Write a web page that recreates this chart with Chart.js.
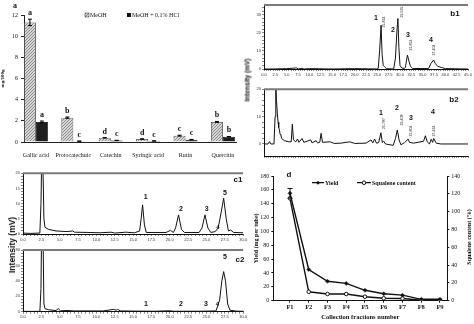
<!DOCTYPE html>
<html>
<head>
<meta charset="utf-8">
<script src="https://cdn.jsdelivr.net/npm/chart.js@4.4.1/dist/chart.umd.min.js"></script>
<style>
  body { margin: 0; background: #fff; }
  #wrap { position: relative; width: 474px; height: 324px; overflow: hidden; background: #fff; }
  #wrap canvas { position: absolute; }
  .vlab { position: absolute; font-family: "Liberation Sans", Arial, sans-serif; font-weight: bold;
          white-space: nowrap; transform: translate(-50%, -50%) rotate(-90deg); color: #111; }
</style>
</head>
<body>
<div id="wrap">
  <canvas id="pa" width="245" height="160" style="left:0;top:0"></canvas>
  <canvas id="pb1" width="234" height="82" style="left:240px;top:0"></canvas>
  <canvas id="pb2" width="234" height="78" style="left:240px;top:82px"></canvas>
  <canvas id="pc1" width="248" height="82" style="left:0;top:160px"></canvas>
  <canvas id="pc2" width="248" height="82" style="left:0;top:242px"></canvas>
  <canvas id="pd" width="234" height="164" style="left:240px;top:160px"></canvas>
  <div class="vlab" style="left:247px;top:80px;font-size:6.5px">Intensity (mV)</div>
  <div class="vlab" style="left:12px;top:245px;font-size:8.5px">Intensity (mV)</div>
</div>
<script>
// --- panel a: phenolic compounds (mg/100g)
const COMPOUNDS = ['Gallic acid', ['Protocatechuic', 'acid'], 'Catechin', 'Syringic acid', 'Rutin', 'Quercitin'];
const MEOH = [11.3, 2.3, 0.4, 0.28, 0.6, 1.9];
const MEOH_ERR = [0.3, 0.06, 0.02, 0.02, 0.04, 0.04];
const MEOH_HCL = [1.9, 0.08, 0.15, 0.1, 0.22, 0.5];
const MEOH_HCL_ERR = [0.08, 0.01, 0.01, 0.01, 0.02, 0.02];
const MEOH_LETTERS = ['a', 'b', 'd', 'd', 'c', 'b'];
const HCL_LETTERS = ['a', 'c', 'c', 'c', 'c', 'b'];

// --- panels b1/b2: chromatograms, [time (min), mV]
const B1_TRACE = [[0,0],[2,0],[5,0.2],[7.2,0.6],[7.6,0],[8.4,0.4],[8.8,0],[10,0.2],[15,0],[20,0.2],[24.8,0],
  [25.2,0.3],[25.5,10],[25.824,24.3],[26.05,8],[26.3,2],[26.6,1.2],[27,0.2],
  [28.6,0],[29.0,6],[29.3,20],[29.535,28],[29.75,12],[30.0,2],[30.4,0.5],[31,0.3],
  [31.2,1],[31.45,5],[31.654,7.7],[31.9,5],[32.3,1.5],[32.8,0.3],
  [36.3,0.2],[36.8,3],[37.404,5],[37.8,3],[38.3,1.5],[39.2,0.8],[40,0.2],[45,0]];
const B1_PEAKS = ['25.824', '29.535', '31.654', '37.404'];

const B2_TRACE = [[0,0],[0.9,0],[1.2,0.9],[1.5,0],[2.2,0],[2.45,10],[2.6,22],[2.75,16],[2.95,11],[3.1,8],[3.25,6],
  [3.4,5.2],[3.55,3.5],[3.7,3.4],[3.9,2],[4.5,1.2],[5.5,0.8],[6.0,0.8],[6.25,7.2],[6.5,1.5],[7,0.8],[7.4,1.8],
  [7.7,0.6],[8.4,2],[8.8,0.6],[10.3,1.5],[10.6,0.4],[11.5,1.2],[11.8,0.4],[12.3,0.6],[12.6,3.9],[12.9,0.6],
  [14.6,0.8],[15.5,0.2],[17,0.3],[18.9,0.8],[20,0.2],[22.5,0.3],[23.6,1.5],[24,0.4],[24.4,1.8],[24.8,0.3],
  [25.3,0.5],[25.787,4.1],[26.1,0.5],[26.4,1],[26.8,0],[28.5,-0.5],[29.0,2],[29.408,5.1],[29.8,1.5],[30.2,-0.3],
  [31.0,0.5],[31.804,1.8],[32.1,0.6],[33,0.3],[35.2,1],[35.6,3],[36.0,0.8],[36.5,0],[36.9,1.7],[37.2,0.6],
  [37.434,2],[38,0.3],[39,0],[45,0]];
const B2_PEAKS = ['25.787', '29.408', '31.804', '37.434'];

// --- panels c1/c2
const C1_TRACE = [[0,0.3],[1,0.2],[2.3,0.3],[2.45,10],[2.55,25],[2.7,25],[2.85,5],[3.0,2.2],[3.5,1.5],[4.5,1.0],
  [6,0.8],[6.8,1.0],[7,0.6],[9,0.5],[10.5,0.4],[12,0.6],[12.5,0.3],[14,0.6],[15.2,0.4],[15.9,1],[16.1,5],
  [16.3,9.6],[16.55,3],[16.8,0.5],[19.5,0.5],[20.1,1.2],[20.5,0.5],[20.8,2],[21.2,6.3],[21.6,1.5],[22,0.5],
  [24,0.5],[24.4,2],[24.8,6.3],[25.2,2],[25.6,0.5],[26.2,0.8],[26.6,2],[27.0,7],[27.35,11.8],[27.7,5],[28,1],
  [28.3,1.3],[28.7,0.5],[30,0.4]];
const C2_TRACE = [[0,0.5],[1,0.4],[2.3,0.5],[2.45,30],[2.55,120],[2.7,120],[2.85,10],[3.0,4],[3.5,2.5],[4.5,1.5],
  [4.8,4],[5.1,1.2],[6,1.5],[7,1],[9,1],[11,1],[12.3,3],[12.7,2],[12.9,3],[13.3,1],[15,0.8],[18,0.6],
  [20,1.2],[20.5,0.6],[24,0.6],[26.3,1],[26.8,15],[27.1,40],[27.35,52],[27.6,40],[27.9,10],[28.2,2],[29,0.8],[30,0.5]];

// --- panel d: fractions
const FRACTIONS = ['F1', 'F2', 'F3', 'F4', 'F5', 'F6', 'F7', 'F8', 'F9'];
const YIELD = [155, 45, 28, 25, 15, 10, 8, 2, 2];
const YIELD_ERR = [7, 1, 1, 1, 0.5, 0.5, 0.5, 0.2, 0.2];
const SQUALENE = [115, 10, 7.5, 7.5, 4.5, 2.7, 2.5, 0.5, 0.5];

Chart.defaults.devicePixelRatio = 1;
Chart.defaults.animation = false;
Chart.defaults.responsive = false;
Chart.defaults.plugins.legend.display = false;
Chart.defaults.plugins.tooltip.enabled = false;
Chart.defaults.color = '#111';

const SERIF = '"Liberation Serif", "Times New Roman", serif';
const SANS = '"Liberation Sans", Arial, sans-serif';

function hatchPattern() {
  const c = document.createElement('canvas');
  c.width = c.height = 3;
  const g = c.getContext('2d');
  g.fillStyle = '#d6d6d6';
  g.fillRect(0, 0, 3, 3);
  g.fillStyle = '#8c8c8c';
  g.fillRect(2, 0, 1, 1);
  g.fillRect(1, 1, 1, 1);
  g.fillRect(0, 2, 1, 1);
  return g.createPattern(c, 'repeat');
}
const HATCH = hatchPattern();

// free text drawn on top of a chart, positions in canvas pixels
const notes = {
  id: 'notes',
  afterDraw(chart, args, opts) {
    const ctx = chart.ctx;
    (opts.items || []).forEach(n => {
      ctx.save();
      ctx.font = n.font;
      ctx.fillStyle = '#111';
      ctx.textAlign = 'center';
      ctx.textBaseline = 'middle';
      ctx.translate(n.x, n.y);
      if (n.rot) ctx.rotate(n.rot);
      ctx.fillText(n.text, 0, 0);
      ctx.restore();
    });
  }
};

// thick grey line across the top of a chromatogram
const topRule = {
  id: 'topRule',
  afterDraw(chart) {
    const a = chart.chartArea, ctx = chart.ctx;
    ctx.save();
    ctx.strokeStyle = '#7a7a7a';
    ctx.lineWidth = 2;
    ctx.beginPath();
    ctx.moveTo(a.left, a.top);
    ctx.lineTo(a.right, a.top);
    ctx.stroke();
    ctx.restore();
  }
};

// ---------- panel a ----------
const barMarks = {
  id: 'barMarks',
  afterDatasetsDraw(chart) {
    const ctx = chart.ctx, y = chart.scales.y;
    const errs = [MEOH_ERR, MEOH_HCL_ERR], letters = [MEOH_LETTERS, HCL_LETTERS];
    ctx.save();
    chart.data.datasets.forEach((ds, di) => {
      chart.getDatasetMeta(di).data.forEach((bar, i) => {
        const v = ds.data[i].y, e = errs[di][i];
        const top = y.getPixelForValue(v + e), bot = y.getPixelForValue(v - e);
        ctx.strokeStyle = '#000';
        ctx.lineWidth = 1;
        ctx.beginPath();
        ctx.moveTo(bar.x, top); ctx.lineTo(bar.x, bot);
        ctx.moveTo(bar.x - 2, top); ctx.lineTo(bar.x + 2, top);
        ctx.moveTo(bar.x - 2, bot); ctx.lineTo(bar.x + 2, bot);
        ctx.stroke();
        ctx.font = 'bold 8px ' + SERIF;
        ctx.fillStyle = '#111';
        ctx.textAlign = 'center';
        ctx.textBaseline = 'alphabetic';
        ctx.fillText(letters[di][i], bar.x, top - 4);
      });
    });
    // legend
    ctx.font = '6px ' + SERIF;
    ctx.textBaseline = 'middle';
    ctx.textAlign = 'left';
    ctx.fillStyle = HATCH;
    ctx.fillRect(85, 13, 4, 4);
    ctx.strokeStyle = '#333';
    ctx.lineWidth = 0.5;
    ctx.strokeRect(85, 13, 4, 4);
    ctx.fillStyle = '#111';
    ctx.fillText(chart.data.datasets[0].label, 90, 15.5);
    ctx.fillRect(127, 13, 4, 4);
    ctx.fillText(chart.data.datasets[1].label, 132, 15.5);
    ctx.restore();
  }
};

new Chart(document.getElementById('pa'), {
  type: 'bar',
  data: {
    datasets: [
      { label: 'MeOH', data: MEOH.map((v, i) => ({ x: i + 1, y: v })),
        backgroundColor: HATCH, borderColor: '#333', borderWidth: 0.8 },
      { label: 'MeOH + 0.1% HCl', data: MEOH_HCL.map((v, i) => ({ x: i + 1, y: v })),
        backgroundColor: '#1e1e1e', borderColor: '#000', borderWidth: 0.8 }
    ]
  },
  options: {
    layout: { padding: { left: 0, top: 15, right: 9, bottom: 0 } },
    datasets: { bar: { categoryPercentage: 0.64, barPercentage: 1 } },
    plugins: {
      notes: { items: [{ text: 'a', x: 15, y: 6, font: 'bold 8px ' + SERIF }] }
    },
    scales: {
      x: {
        type: 'linear', min: 0.681, max: 6.35, offset: false,
        afterBuildTicks: s => { s.ticks = COMPOUNDS.map((c, i) => ({ value: i + 1 })); },
        afterFit: s => { s.height = 18; },
        ticks: { callback: v => COMPOUNDS[v - 1], font: { family: SERIF, size: 6 }, padding: 2, maxRotation: 0, autoSkip: false },
        grid: { display: false },
        border: { color: '#222', width: 1 }
      },
      y: {
        min: 0, max: 12,
        afterFit: s => { s.width = 24; },
        ticks: { stepSize: 2, font: { family: SERIF, size: 6 }, padding: 3 },
        grid: { display: true, drawOnChartArea: false, tickLength: 3, color: '#222' },
        border: { color: '#222', width: 1 },
        title: { display: true, text: 'mg/100g', font: { family: SERIF, size: 5, weight: 'bold' }, padding: 0 }
      }
    }
  },
  plugins: [barMarks, notes]
});

// ---------- chromatograms ----------
function chromatogram(id, trace, o) {
  const xTicks = [];
  for (let t = 0; t <= o.xMax + 1e-9; t += 0.5) xTicks.push({ value: t });
  const yTicks = [];
  for (let v = 0; v <= o.yMax + 1e-9; v += o.yMinor) yTicks.push({ value: v });
  return new Chart(document.getElementById(id), {
    type: 'line',
    data: {
      datasets: [{ data: trace.map(p => ({ x: p[0], y: p[1] })), borderColor: '#111',
                   borderWidth: 1, pointRadius: 0, tension: 0 }]
    },
    options: {
      layout: { padding: o.pad },
      plugins: { notes: { items: o.notes } },
      scales: {
        x: {
          type: 'linear', min: 0, max: o.xMax,
          afterBuildTicks: s => { s.ticks = xTicks.slice(); },
          afterFit: s => { s.height = o.xH; },
          ticks: { callback: v => (Math.abs(v / 2.5 - Math.round(v / 2.5)) < 1e-6 ? v.toFixed(1) : ''),
                   font: { family: SANS, size: 4 }, color: '#333', padding: 1, maxRotation: 0, autoSkip: false },
          grid: { display: true, drawOnChartArea: false, tickLength: 2, color: '#333', lineWidth: 0.6 },
          border: { color: '#111', width: 1 }
        },
        y: {
          min: o.yMin || 0, max: o.yMax,
          afterBuildTicks: s => { s.ticks = yTicks.slice(); },
          afterFit: s => { s.width = o.yW; },
          ticks: { callback: v => (Math.abs(v / o.yMajor - Math.round(v / o.yMajor)) < 1e-6 ? String(v) : ''),
                   font: { family: SANS, size: 4 }, color: '#333', padding: 1, autoSkip: false },
          grid: { display: true, drawOnChartArea: false, tickLength: 2, color: '#333', lineWidth: 0.6 },
          border: { color: '#111', width: 1 }
        }
      }
    },
    plugins: [topRule, notes]
  });
}

const NUM = 'bold 7px ' + SANS;
const TAG = 'bold 8px ' + SANS;
const RT = '3.6px ' + SANS;
const UP = -Math.PI / 2;

chromatogram('pb1', B1_TRACE, {
  xMax: 45, yMax: 35.5, yMinor: 2, yMajor: 10, xH: 13, yW: 24,
  pad: { left: 0, right: 6, top: 5, bottom: 0 },
  notes: [
    { text: '1', x: 136, y: 18, font: NUM }, { text: '2', x: 153, y: 30, font: NUM },
    { text: '3', x: 168, y: 35, font: NUM }, { text: '4', x: 191, y: 40, font: NUM },
    { text: 'b1', x: 215, y: 14, font: TAG },
    { text: B1_PEAKS[0], x: 144, y: 22, font: RT, rot: UP }, { text: B1_PEAKS[1], x: 161.7, y: 12, font: RT, rot: UP },
    { text: B1_PEAKS[2], x: 171, y: 45, font: RT, rot: UP }, { text: B1_PEAKS[3], x: 194, y: 50, font: RT, rot: UP }
  ]
});

chromatogram('pb2', B2_TRACE, {
  xMax: 45, yMin: -4.4, yMax: 20, yMinor: 2, yMajor: 10, xH: 4, yW: 24,
  pad: { left: 0, right: 6, top: 7.3, bottom: 0 },
  notes: [
    { text: '1', x: 141, y: 31, font: NUM }, { text: '2', x: 157, y: 26, font: NUM },
    { text: '3', x: 171, y: 36, font: NUM }, { text: '4', x: 193, y: 30, font: NUM },
    { text: 'b2', x: 214, y: 18, font: TAG },
    { text: B2_PEAKS[0], x: 144, y: 41.5, font: RT, rot: UP }, { text: B2_PEAKS[1], x: 161.7, y: 38, font: RT, rot: UP },
    { text: B2_PEAKS[2], x: 171, y: 49, font: RT, rot: UP }, { text: B2_PEAKS[3], x: 194, y: 49, font: RT, rot: UP }
  ]
});

chromatogram('pc1', C1_TRACE, {
  xMax: 30, yMax: 20, yMinor: 1, yMajor: 5, xH: 8, yW: 23,
  pad: { left: 0, right: 0, top: 13.3, bottom: 0 },
  notes: [
    { text: '1', x: 145.7, y: 37.3, font: NUM }, { text: '2', x: 181, y: 49, font: NUM },
    { text: '3', x: 206.7, y: 48.7, font: NUM }, { text: '4', x: 218, y: 67.5, font: 'bold 6px ' + SANS },
    { text: '5', x: 225, y: 33, font: NUM }, { text: 'c1', x: 238, y: 20, font: TAG }
  ]
});

chromatogram('pc2', C2_TRACE, {
  xMax: 30, yMax: 80, yMinor: 4, yMajor: 20, xH: 12.3, yW: 23,
  pad: { left: 0, right: 0, top: 8, bottom: 0 },
  notes: [
    { text: '1', x: 146, y: 62, font: NUM }, { text: '2', x: 181, y: 62, font: NUM },
    { text: '3', x: 206, y: 62, font: NUM }, { text: '4', x: 217.5, y: 62, font: 'bold 6px ' + SANS },
    { text: '5', x: 225, y: 14.7, font: NUM }, { text: 'c2', x: 240, y: 18, font: TAG }
  ]
});

// ---------- panel d ----------
const dMarks = {
  id: 'dMarks',
  afterDatasetsDraw(chart) {
    const ctx = chart.ctx, y = chart.scales.y;
    const pts = chart.getDatasetMeta(0).data;
    ctx.save();
    ctx.strokeStyle = '#111';
    ctx.lineWidth = 1;
    pts.forEach((p, i) => {
      if (YIELD_ERR[i] < 2) return;
      const t = y.getPixelForValue(YIELD[i] + YIELD_ERR[i]), b = y.getPixelForValue(YIELD[i] - YIELD_ERR[i]);
      ctx.beginPath();
      ctx.moveTo(p.x, t); ctx.lineTo(p.x, b);
      ctx.moveTo(p.x - 2.5, t); ctx.lineTo(p.x + 2.5, t);
      ctx.moveTo(p.x - 2.5, b); ctx.lineTo(p.x + 2.5, b);
      ctx.stroke();
    });
    // legend
    ctx.lineWidth = 1.3;
    ctx.beginPath();
    ctx.moveTo(72, 22.7); ctx.lineTo(84, 22.7);
    ctx.moveTo(117, 22.7); ctx.lineTo(131, 22.7);
    ctx.stroke();
    ctx.fillStyle = '#111';
    ctx.beginPath();
    ctx.moveTo(78, 20.7); ctx.lineTo(80, 22.7); ctx.lineTo(78, 24.7); ctx.lineTo(76, 22.7);
    ctx.closePath(); ctx.fill();
    ctx.fillStyle = '#fff';
    ctx.lineWidth = 1;
    ctx.beginPath(); ctx.arc(124, 22.7, 1.8, 0, Math.PI * 2); ctx.fill(); ctx.stroke();
    ctx.fillStyle = '#111';
    ctx.font = 'bold 6px ' + SERIF;
    ctx.textAlign = 'left';
    ctx.textBaseline = 'middle';
    ctx.fillText(chart.data.datasets[0].label, 85, 23);
    ctx.fillText(chart.data.datasets[1].label, 132, 23);
    ctx.restore();
  }
};

new Chart(document.getElementById('pd'), {
  type: 'line',
  data: {
    datasets: [
      { label: 'Yield', data: YIELD.map((v, i) => ({ x: i + 1, y: v })), yAxisID: 'y',
        borderColor: '#111', borderWidth: 1.4, tension: 0, pointStyle: 'rectRot', pointRadius: 2,
        pointBackgroundColor: '#111', pointBorderColor: '#111', pointBorderWidth: 0.5 },
      { label: 'Squalene content', data: SQUALENE.map((v, i) => ({ x: i + 1, y: v })), yAxisID: 'y2',
        borderColor: '#111', borderWidth: 1.4, tension: 0, pointStyle: 'circle', pointRadius: 1.8,
        pointBackgroundColor: '#fff', pointBorderColor: '#111', pointBorderWidth: 1 }
    ]
  },
  options: {
    layout: { padding: { left: 13, right: 0, top: 16, bottom: 3 } },
    plugins: {
      notes: { items: [
        { text: 'd', x: 49, y: 15, font: 'bold 8px ' + SANS },
        { text: 'Squalene content (%)', x: 229, y: 77, font: 'bold 6px ' + SERIF, rot: UP }
      ] }
    },
    scales: {
      x: {
        type: 'linear', min: 0.11, max: 9.39,
        afterBuildTicks: s => { s.ticks = FRACTIONS.map((f, i) => ({ value: i + 1 })); },
        afterFit: s => { s.height = 20.3; },
        ticks: { callback: v => FRACTIONS[v - 1], font: { family: SERIF, size: 6.5, weight: 'bold' }, padding: 1, autoSkip: false, maxRotation: 0 },
        grid: { display: true, drawOnChartArea: false, tickLength: 2, color: '#111' },
        border: { color: '#111', width: 1 },
        title: { display: true, text: 'Collection fractions number', font: { family: SERIF, size: 6.5, weight: 'bold' }, padding: 0 }
      },
      y: {
        position: 'left', min: 0, max: 180,
        afterFit: s => { s.width = 20.3; },
        ticks: { stepSize: 20, font: { family: SERIF, size: 6 }, padding: 2 },
        grid: { display: true, drawOnChartArea: false, tickLength: 2, color: '#111' },
        border: { color: '#111', width: 1 },
        title: { display: true, text: 'Yield (mg per tube)', font: { family: SERIF, size: 6, weight: 'bold' }, padding: 0 }
      },
      y2: {
        position: 'right', min: 0, max: 140,
        afterFit: s => { s.width = 26.7; },
        ticks: { stepSize: 20, font: { family: SERIF, size: 6 }, padding: 2 },
        grid: { display: true, drawOnChartArea: false, tickLength: 2, color: '#111' },
        border: { color: '#111', width: 1 }
      }
    }
  },
  plugins: [dMarks, notes]
});
</script>
</body>
</html>
